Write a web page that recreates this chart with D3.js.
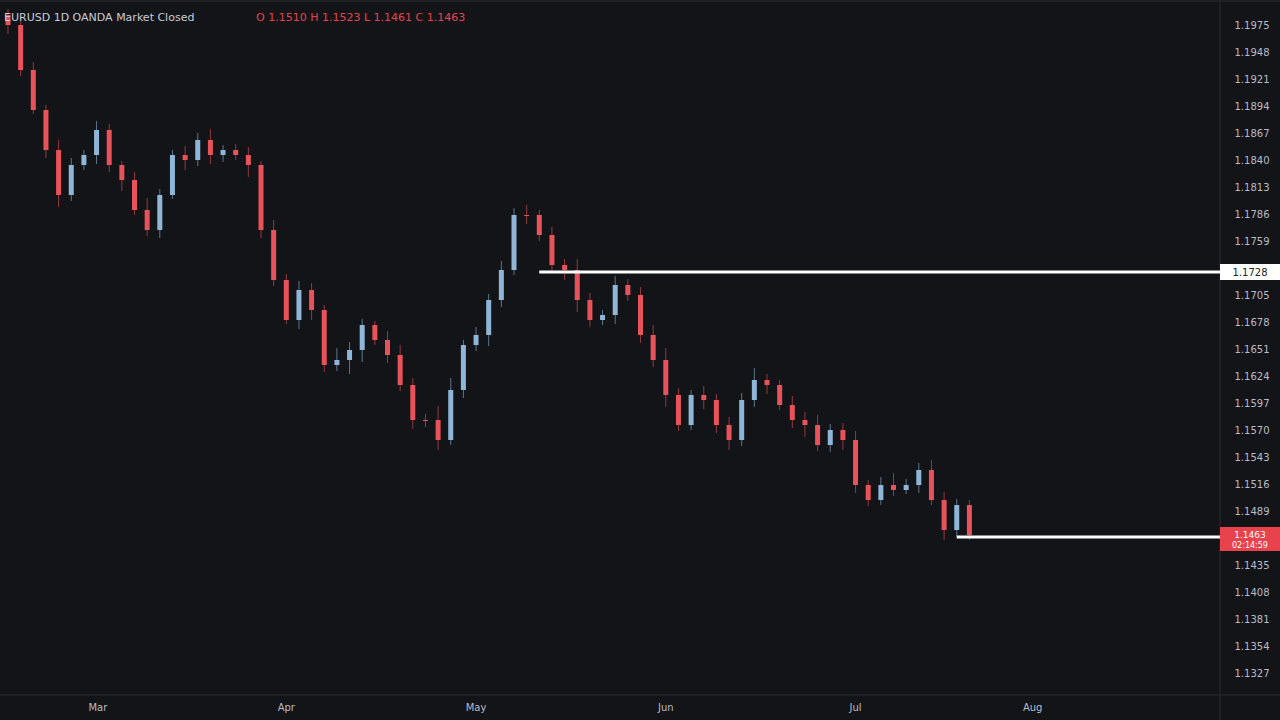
<!doctype html>
<html lang="en">
<head>
<meta charset="utf-8" />
<title>Candles</title>
<style>
  html, body { margin: 0; background: #131418; }
  svg { display: block; font-family: "DejaVu Sans", sans-serif; }
</style>
<script src="https://cdn.jsdelivr.net/npm/d3@7"></script>
</head>
<body>
<svg id="chart" width="1280" height="720"></svg>
<script>
// closes (price units)
const closes = [975,930,890,850,805,835,845,870,835,820,790,770,805,845,840,860,845,850,845,835,770,720,680,710,690,635,640,650,675,660,645,615,580,580,560,610,655,665,700,730,785,785,765,735,730,700,680,685,715,705,665,640,605,575,605,600,575,560,600,620,615,595,580,575,555,570,560,515,500,515,510,515,530,500,470,495,465];
const wicks = [6,4,8,5,10,7,5,9,6,4,8,12,6,5,9,7,11,5,6,8,4,10,6,9,7,5,12,8,6,4,9,10,7,6,14,12,5,8,6,9,7,10,5,8,6,11,7,5,9,6,8,10,12,7,5,9,6,8,7,12,6,5,9,8,10,6,7,9,5,8,12,6,7,10,8,6,5];
const priceTicks = [975,948,921,894,867,840,813,786,759,732,705,678,651,624,597,570,543,516,489,462,435,408,381,354,327];
const timeLabels = ["Mar","Apr","May","Jun","Jul","Aug"];
const timeIdx = [7.1,22,37,52,67,81];
const levelHigh = 728, levelLast = 463;

const svg = d3.select("#chart");
const W = 1280, H = 720, axisX = 1220, bottomY = 695;
svg.append("rect").attr("width", W).attr("height", H).attr("fill", "#131418");

const x = d3.scaleLinear().domain([0, 80]).range([8, 1020]);
const y = d3.scaleLinear().domain([975, 327]).range([25, 673]);

// axis borders
svg.append("line").attr("x1", axisX).attr("x2", axisX).attr("y1", 0).attr("y2", H).attr("stroke", "#2a2c33");
svg.append("line").attr("x1", 0).attr("x2", W).attr("y1", bottomY).attr("y2", bottomY).attr("stroke", "#2a2c33");
svg.append("line").attr("x1", 0).attr("x2", W).attr("y1", 1).attr("y2", 1).attr("stroke", "#2a2c33");

const fmt = v => (1.1 + v / 10000).toFixed(4);

svg.append("g").selectAll("text")
  .data(priceTicks.filter(d => Math.abs(y(d) - y(levelHigh)) > 12 && Math.abs(y(d) - y(levelLast)) > 14))
  .join("text")
  .attr("x", 1252).attr("y", d => y(d) + 4).attr("text-anchor", "middle")
  .attr("fill", "#b8bcc6").attr("font-size", 10).text(fmt);

svg.append("g").selectAll("text").data(timeLabels).join("text")
  .attr("x", (d, i) => x(timeIdx[i])).attr("y", 711).attr("text-anchor", "middle")
  .attr("fill", "#b8bcc6").attr("font-size", 10).text(d => d);

// candles
const cw = 5;
const g = svg.append("g");
closes.forEach((c, i) => {
  const o = i === 0 ? c + 10 : closes[i - 1];
  const up = c > o;
  const col = up ? "#8fb6d6" : "#e8525a";
  const hi = Math.max(o, c) + wicks[i], lo = Math.min(o, c) - wicks[(i + 7) % wicks.length];
  g.append("line").attr("x1", x(i)).attr("x2", x(i)).attr("y1", y(hi)).attr("y2", y(lo))
    .attr("stroke", col).attr("stroke-opacity", 0.6);
  g.append("rect").attr("x", x(i) - cw / 2).attr("width", cw)
    .attr("y", y(Math.max(o, c))).attr("height", Math.max(1, Math.abs(y(o) - y(c))))
    .attr("fill", col);
});

// level lines
svg.append("line").attr("x1", x(42)).attr("x2", axisX).attr("y1", y(levelHigh)).attr("y2", y(levelHigh))
  .attr("stroke", "#fff").attr("stroke-width", 3);
svg.append("line").attr("x1", x(75)).attr("x2", axisX).attr("y1", y(levelLast)).attr("y2", y(levelLast))
  .attr("stroke", "#fff").attr("stroke-width", 3);

svg.append("rect").attr("x", axisX).attr("y", y(levelHigh) - 8).attr("width", 60).attr("height", 16).attr("fill", "#fff");
svg.append("text").attr("x", 1250).attr("y", y(levelHigh) + 4).attr("text-anchor", "middle")
  .attr("fill", "#222").attr("font-size", 10).text(fmt(levelHigh));

svg.append("rect").attr("x", axisX).attr("y", y(levelLast) - 10).attr("width", 60).attr("height", 24).attr("fill", "#e8424c");
svg.append("text").attr("x", 1250).attr("y", y(levelLast) + 1).attr("text-anchor", "middle")
  .attr("fill", "#fff").attr("font-size", 9).text(fmt(levelLast));
svg.append("text").attr("x", 1250).attr("y", y(levelLast) + 11).attr("text-anchor", "middle")
  .attr("fill", "#fff").attr("font-size", 8).text("02:14:59");

// header
svg.append("text").attr("x", 4).attr("y", 21).attr("font-size", 11).attr("fill", "#c8ccd4")
  .text("EURUSD  1D  OANDA  Market  Closed");
svg.append("text").attr("x", 256).attr("y", 21).attr("font-size", 11).attr("fill", "#e8424c")
  .text("O 1.1510  H 1.1523  L 1.1461  C 1.1463");
</script>
</body>
</html>
